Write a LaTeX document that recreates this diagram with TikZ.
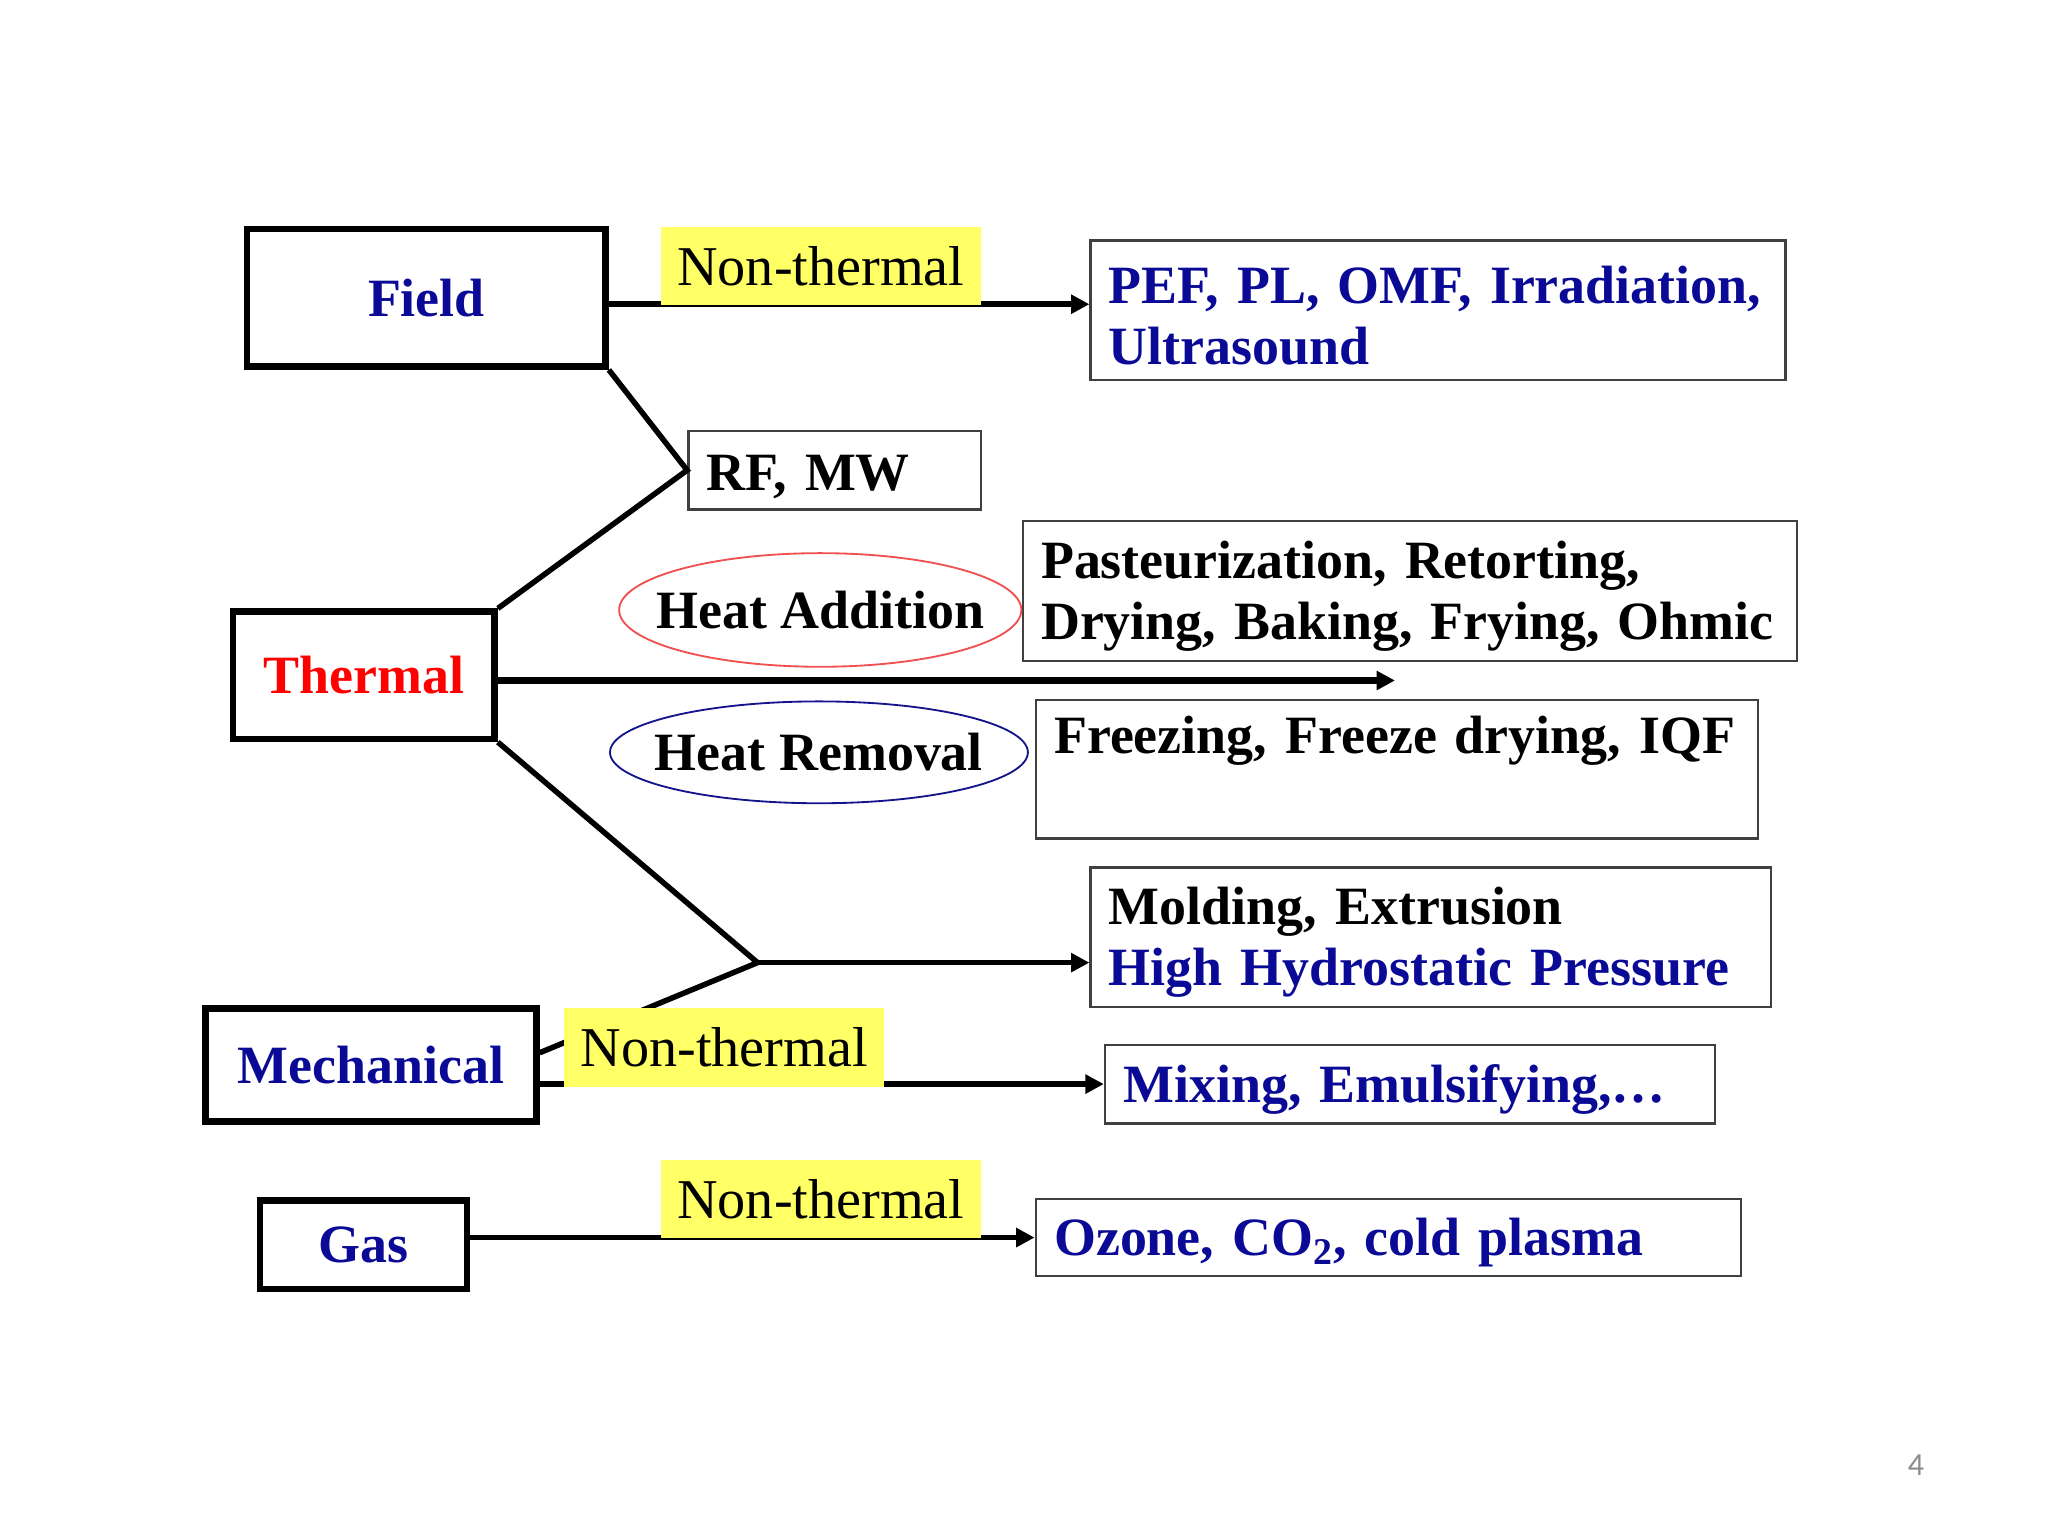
\documentclass[tikz,border=0pt]{standalone}
\usepackage{fontspec}
\setmainfont{Liberation Serif}
\newfontfamily\pagefont{Carlito}
\usetikzlibrary{arrows.meta,shapes.geometric}
\definecolor{txtblue}{RGB}{10,10,150}
\definecolor{ntyellow}{RGB}{255,255,102}
\definecolor{elred}{RGB}{240,80,80}
\definecolor{elblue}{RGB}{20,20,140}

\begin{document}
\begin{tikzpicture}[x=0.02cm,y=-0.02cm,
    every node/.style={font=\fontsize{23.5}{26.7}\selectfont\bfseries},
    srcbox/.style={draw,line width=2.8pt,inner sep=0pt},
    outbox/.style={draw=black!75,line width=1.1pt,align=left,inner xsep=0.28cm,inner ysep=0pt,
        execute at begin node={\rule{0pt}{21pt}}},
    heatell/.style={ellipse,draw,line width=0.8pt,inner xsep=-2cm,inner ysep=-1cm},
    nonth/.style={fill=ntyellow,minimum width=4.9cm,minimum height=1.2cm,inner sep=0pt,font=\fontsize{24.5}{27}\selectfont},
    conn/.style={line width=2.4pt},
    arr/.style={-{Triangle[length=8pt,width=8pt]}}]
                \path[fill=white,use as bounding box] (0,0) rectangle (1568,1176);
                \node[srcbox,minimum width=5.49cm,minimum height=2.11cm,text=txtblue] (field) at (326.5,228) {Field};
                \node[srcbox,minimum width=4.01cm,minimum height=1.95cm,text=red] (thermal) at (278.5,517) {Thermal};
                \node[srcbox,minimum width=5.07cm,minimum height=1.73cm,text=txtblue] (mech) at (284,815.5) {Mechanical};
                \node[srcbox,minimum width=3.17cm,minimum height=1.35cm,text=txtblue] (gas) at (278.5,953) {Gas};
                \node[outbox,text width=10.08cm,minimum height=2.14cm,text=txtblue] (pef) at (1101,237.5) {PEF, PL, OMF, Irradiation,\\Ultrasound};
                \node[outbox,text width=3.92cm,minimum height=1.2cm] (rfmw) at (639,360) {RF, MW};
                \node[outbox,text width=11.3cm,minimum height=2.14cm] (past) at (1079.5,452.5) {Pasteurization, Retorting,\\Drying, Baking, Frying, Ohmic};
                \node[outbox,text width=10.5cm,minimum height=2.12cm] (freez) at (1069.5,589) {Freezing, Freeze drying, IQF\\\strut};
                \node[outbox,text width=9.86cm,minimum height=2.14cm] (mold) at (1095.5,717.5) {Molding, Extrusion\\\textcolor{txtblue}{High Hydrostatic Pressure}};
                \node[outbox,text width=8.78cm,minimum height=1.2cm,text=txtblue] (mix) at (1079.5,830) {Mixing, Emulsifying,…};
                \node[outbox,text width=10.24cm,minimum height=1.18cm,text=txtblue] (ozone) at (1063,947.5) {Ozone, CO\textsubscript{2}, cold plasma};
                \node[heatell,draw=elred,minimum width=6.16cm,minimum height=1.74cm] (heatadd) at (628,467) {Heat Addition};
                \node[heatell,draw=elblue,minimum width=6.4cm,minimum height=1.56cm] (heatrem) at (627,576) {Heat Removal};
                \coordinate (fa) at ([yshift=-2.8pt]field.east);
                \coordinate (jmold) at (580,737);
                \coordinate (thend) at (1068,521);
                \draw[conn,arr] (fa) -- (fa -| pef.west);
                \draw[conn] (field.south east) -- (rfmw.west) -- (thermal.north east);
                \draw[conn,arr,line width=3.2pt] (thermal.east |- thend) -- (thend);
                \draw[conn] (thermal.south east) -- (jmold) -- ([yshift=5.4pt]mech.east);
                \draw[conn,arr] (jmold) -- (jmold -| mold.west);
                \draw[conn,arr] (mech.east |- mix.west) -- (mix.west);
                \draw[conn,arr] (gas.east |- ozone.west) -- (ozone.west);
                \foreach \nx/\ny [count=\i] in {628.5/203.5,554.5/802,628.5/918}{
                    \node[nonth] (nt\i) at (\nx,\ny) {Non-thermal};
                }
                \node[font=\pagefont\fontsize{14}{16}\selectfont,text=black!45] (pnum) at (1467,1122) {4};
            \end{tikzpicture}
\end{document}
